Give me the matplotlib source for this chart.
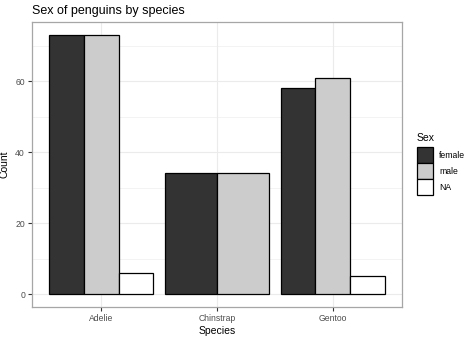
import matplotlib.pyplot as plt
from matplotlib.patches import Patch

species = ["Adelie", "Chinstrap", "Gentoo"]
sexes = ["female", "male", "NA"]
# counts per species, per sex (None = group absent)
counts = {
    "Adelie": [73, 73, 6],
    "Chinstrap": [34, 34, None],
    "Gentoo": [58, 61, 5],
}
fill = {"female": "#333333", "male": "#CCCCCC", "NA": "#FFFFFF"}

plt.rcParams['font.family'] = ['Liberation Sans', 'DejaVu Sans']

fig = plt.figure(figsize=(4.74, 3.38), dpi=100)
ax = fig.add_axes([32 / 474, 31 / 338, 370 / 474, 285 / 338])

# dodge like ggplot: groups present share width 0.9
for i, sp in enumerate(species, start=1):
    present = [(s, v) for s, v in zip(sexes, counts[sp]) if v is not None]
    w = 0.9 / len(present)
    start = i - 0.45
    for j, (s, v) in enumerate(present):
        ax.bar(start + w * (j + 0.5), v, width=w, color=fill[s],
               edgecolor='black', linewidth=0.9, zorder=3)

ax.set_xlim(0.4, 3.6)
ax.set_ylim(-3.65, 76.65)
ax.set_xticks([1, 2, 3])
ax.set_xticklabels(species)
ax.set_yticks([0, 20, 40, 60])
ax.set_yticks([10, 30, 50, 70], minor=True)
ax.set_xticks([], minor=True)

ax.grid(True, which='major', color='#EBEBEB', linewidth=0.8, zorder=0)
ax.grid(True, which='minor', axis='y', color='#EBEBEB', linewidth=0.4, zorder=0)
ax.set_axisbelow(True)
for sp in ax.spines.values():
    sp.set_color('#A6A6A6')
    sp.set_linewidth(0.9)
ax.tick_params(which='major', length=3, color='#333333', width=0.8,
               labelsize=6.2, labelcolor='#4D4D4D', pad=2)
ax.tick_params(which='minor', length=0)

ax.set_xlabel("Species", fontsize=7.5, labelpad=2)
ax.set_ylabel("Count", fontsize=7.5)
ax.yaxis.set_label_coords(-0.062, 0.5)
fig.text(32 / 474, 1 - 11 / 338, "Sex of penguins by species", fontsize=9,
         ha='left', va='center')

handles = [Patch(facecolor=fill[s], edgecolor='black', linewidth=0.9) for s in sexes]
leg = fig.legend(handles, sexes, loc='upper left',
                 bbox_to_anchor=(417 / 474, 1 - 133 / 338),
                 frameon=False, title="Sex", fontsize=6.2, title_fontsize=7.5,
                 handlelength=1.85, handleheight=2.5, labelspacing=0.0,
                 handletextpad=0.7, borderaxespad=0, borderpad=0)
leg._legend_box.align = "left"
leg._legend_box.sep = 3

fig.savefig("out.png", dpi=100)
